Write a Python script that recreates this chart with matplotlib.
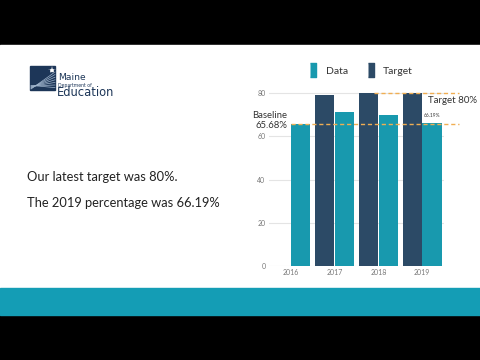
import matplotlib
matplotlib.use('Agg')
import matplotlib.pyplot as plt
import numpy as np
from matplotlib.patches import Rectangle, Polygon
from matplotlib.lines import Line2D

# chart data
years = ['2016', '2017', '2018', '2019']
data_vals = [65.68, 71.3, 69.8, 66.19]
target_vals = [np.nan, 79.0, 80.0, 80.0]
baseline = 65.68
target_latest = 80
y_ticks = [0, 20, 40, 60, 80]

teal = '#1899ae'
navy = '#2c4a66'
orange = '#f0ae52'
band = '#149db5'

plt.rcParams['font.family'] = ['Lato', 'DejaVu Sans']

fig = plt.figure(figsize=(4.8, 3.6), dpi=100, facecolor='black')

# slide background in pixel coordinates
bg = fig.add_axes([0, 0, 1, 1])
bg.set_xlim(0, 480)
bg.set_ylim(360, 0)
bg.axis('off')
bg.add_patch(Rectangle((0, 45), 480, 243, color='white', zorder=0))
bg.add_patch(Rectangle((0, 288), 480, 27, color=band, zorder=0))

# logo
bg.add_patch(Polygon([[30, 66], [55, 66], [55, 90], [30, 90]], closed=True,
                     color='#1d3658', zorder=1))
for k in range(7):
    bg.plot([31, 55], [89 - k * 0.6, 72 + k * 2.6], color='#9fb4cc', lw=0.5, zorder=2)
bg.plot([52], [70], marker='*', ms=6, color='white', mec='#1d3658', mew=0.3, zorder=3)
bg.text(58, 78, 'Maine', fontsize=6.6, color='#1d3658', va='center', ha='left',
        family=['DejaVu Sans'])
bg.text(58, 85, 'Department of', fontsize=3.3, color='#1d3658', va='center', ha='left',
        family=['DejaVu Sans'])
bg.text(57, 93, 'Education', fontsize=8.3, color='#1d3658', va='center', ha='left',
        family=['DejaVu Sans'])

# left text
bg.text(27, 177, 'Our latest target was 80%.', fontsize=9.3, color='#222222',
        va='center', ha='left')
bg.text(27, 203, 'The 2019 percentage was 66.19%', fontsize=9.3, color='#222222',
        va='center', ha='left')

# chart
ax = fig.add_axes([269 / 480, 1 - 266 / 360, 175 / 480, 183.5 / 360])
ax.set_facecolor('none')
x = np.arange(len(years))
w = 0.44
ax.bar(x - 0.225, target_vals, w, color=navy, zorder=2, label='Target')
ax.bar(x + 0.225, data_vals, w, color=teal, zorder=2, label='Data')
ax.set_xlim(-0.5, 3.5)
ax.set_ylim(0, 85)
ax.set_yticks(y_ticks)
ax.set_xticks(x)
ax.set_xticklabels(years)
ax.tick_params(length=0, labelsize=5, colors='#777777', pad=2.5)
for s in ax.spines.values():
    s.set_visible(False)
ax.grid(axis='y', color='#e4e4e4', lw=0.8, zorder=0)
ax.set_axisbelow(True)

# reference lines
ax.plot([1.9, 3.85], [target_latest, target_latest], color=orange, lw=1,
        dashes=(3, 2), zorder=3, clip_on=False)
ax.plot([0.0, 3.85], [baseline, baseline], color=orange, lw=1,
        dashes=(3, 2), zorder=3, clip_on=False)
ax.text(3.13, target_latest - 3.5, 'Target 80%', fontsize=7, color='#333333',
        ha='left', va='center', clip_on=False)
ax.text(-0.49, baseline + 4, 'Baseline', fontsize=6.8, color='#333333',
        ha='center', va='center', clip_on=False)
ax.text(-0.45, baseline - 0.7, '65.68%', fontsize=6.8, color='#333333',
        ha='center', va='center', clip_on=False)
ax.text(3.225, data_vals[3] + 3.5, '66.19%', fontsize=3.5, color='#333333',
        ha='center', va='center')

# legend
handles = [Line2D([], [], marker='s', ls='', color=teal, ms=5),
           Line2D([], [], marker='s', ls='', color=navy, ms=5)]
for h in handles:
    h.set_marker([(-0.45, -1), (0.45, -1), (0.45, 1), (-0.45, 1)])
    h.set_markersize(10)
fig.legend(handles, ['Data', 'Target'], loc='center', bbox_to_anchor=(360 / 480, 1 - 71 / 360),
           ncol=2, frameon=False, fontsize=7.5, handlelength=1.2, columnspacing=1.6,
           handletextpad=0.6, labelcolor='#333333')

fig.savefig('out.png', dpi=100, facecolor='black')
